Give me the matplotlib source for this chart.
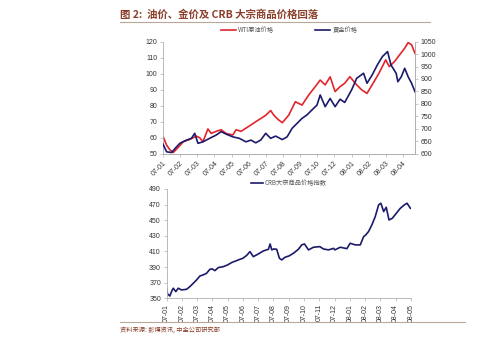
import matplotlib.pyplot as plt
from matplotlib.lines import Line2D

plt.rcParams['font.family'] = ['Liberation Sans', 'Noto Sans CJK SC', 'DejaVu Sans']

# --- oil & gold (top panel), x in label-step units ---
wti_x = [0.0, 0.21, 0.40, 0.60, 0.89, 1.18, 1.56, 1.95, 2.14, 2.33, 2.62, 2.81,
         3.10, 3.39, 3.68, 4.07, 4.26, 4.55, 4.84, 5.13, 5.41, 5.70, 5.99, 6.28,
         6.47, 6.76, 6.96, 7.34, 7.72, 8.11, 8.50, 8.88, 9.17, 9.46, 9.75, 10.04,
         10.33, 10.60, 10.90, 11.30, 11.60, 11.90, 12.20, 12.60, 12.99, 13.20,
         13.50, 13.80, 14.10, 14.30, 14.50, 14.70]
wti = [61.0, 55.4, 52.5, 50.8, 54.0, 57.5, 59.0, 61.0, 60.0, 57.5, 65.5, 62.7,
       64.0, 65.0, 62.7, 61.7, 65.0, 64.0, 66.0, 68.0, 70.0, 72.0, 74.0, 77.0,
       74.0, 71.0, 69.4, 74.2, 82.5, 80.4, 86.7, 91.9, 96.0, 93.0, 98.0, 88.8,
       91.9, 94.0, 98.1, 93.0, 89.8, 87.7, 93.0, 100.3, 108.6, 104.4,
       107.5, 111.7, 115.9, 119.4, 118.0, 112.7]

gold_x = [0.0, 0.21, 0.50, 0.70, 0.98, 1.37, 1.66, 1.85, 2.04, 2.33, 2.72, 3.10,
          3.39, 3.68, 4.07, 4.45, 4.84, 5.13, 5.41, 5.70, 5.99, 6.28, 6.57, 6.96,
          7.24, 7.53, 7.82, 8.11, 8.40, 8.69, 8.98, 9.17, 9.46, 9.75, 10.04, 10.33,
          10.60, 11.00, 11.30, 11.70, 11.90, 12.20, 12.50, 12.80, 13.10, 13.30,
          13.60, 13.70, 13.90, 14.10, 14.30, 14.50, 14.70]
gold = [639, 608, 605, 621, 642, 655, 662, 682, 642, 648, 662, 675,
        689, 679, 668, 662, 648, 655, 644, 655, 682, 662, 671, 657,
        668, 702, 722, 742, 756, 776, 795, 836, 789, 822, 789, 819,
        806, 856, 903, 923, 883, 916, 956, 990, 1010, 956,
        923, 889, 909, 943, 909, 883, 849]

top_labels = ['07-01', '07-02', '07-03', '07-04', '07-05', '07-06', '07-07', '07-08',
              '07-09', '07-10', '07-12', '08-01', '08-02', '08-03', '08-04']

# --- CRB index (bottom panel), x in months from Jan 2007 ---
crb_x = [0.0, 0.07, 0.22, 0.33, 0.44, 0.61, 0.77, 0.98, 1.31, 1.53, 1.75, 1.97,
         2.19, 2.40, 2.62, 2.84, 2.99, 3.17, 3.39, 3.72, 4.00, 4.26, 4.59, 4.81,
         5.00, 5.25, 5.46, 5.68, 6.01, 6.34, 6.67, 6.78, 6.89, 7.02, 7.21, 7.39,
         7.54, 7.76, 8.02, 8.31, 8.63, 8.85, 9.03, 9.29, 9.62, 10.03, 10.27, 10.60,
         10.93, 11.02, 11.37, 11.80, 12.02, 12.35, 12.68, 12.90, 13.03, 13.22,
         13.44, 13.66, 13.88, 14.03, 14.21, 14.38, 14.56, 14.78, 15.04, 15.30,
         15.56, 15.74, 15.96]
crb = [362, 355.7, 353, 358.7, 363, 358.7, 363, 360.8, 361.6, 365, 369.3, 373.6,
       378.7, 380, 382.1, 387.2, 387.7, 385.5, 389.4, 390.6, 392.8, 395.8, 398.3, 400,
       401.3, 405, 409.8, 403.4, 406.8, 410.7, 412.8, 419.6, 412, 413.2, 412.8, 401.3,
       399.2, 402.6, 404.3, 407.7, 412.8, 418.4, 419.6, 412, 415.4, 416.2, 413.2, 412,
       414, 412, 415.4, 413.6, 420.5, 418.4, 418.4, 429, 431, 435.4,
       444, 454.6, 469.5, 471.7, 461, 466.5, 450.3, 452.5, 458.9, 465.2,
       469.5, 471.7, 465.2]

bottom_labels = ['07-01', '07-02', '07-03', '07-04', '07-05', '07-06', '07-07', '07-08',
                 '07-09', '07-10', '07-11', '07-12', '08-01', '08-02', '08-03', '08-04',
                 '08-05']

RED = '#e3242b'
NAVY = '#1b1a6b'
BROWN = '#8a3f2a'
SPINE = '#b0b0b0'
CJK = ['Noto Sans CJK SC', 'DejaVu Sans']

fig = plt.figure(figsize=(5.0, 3.41), dpi=100)


def style(ax, right=False):
    ax.spines['top'].set_visible(False)
    ax.spines['right'].set_visible(right)
    for s in ['left', 'bottom', 'right']:
        ax.spines[s].set_color(SPINE)
        ax.spines[s].set_linewidth(0.6)
    ax.tick_params(labelsize=5, colors='#333333', length=2, width=0.5, pad=2)
    ax.tick_params(axis='both', color=SPINE)


# top panel
ax1 = fig.add_axes([0.326, 0.549, 0.504, 0.329])
ax1.plot(wti_x, wti, color=RED, lw=1.2)
ax1.set_xlim(0, 14.7)
ax1.set_ylim(50, 120)
ax1.set_yticks(range(50, 121, 10))
ax1.set_xticks(range(len(top_labels)))
ax1.set_xticklabels(top_labels, rotation=45, ha='right', rotation_mode='anchor')
style(ax1, right=True)

ax2 = ax1.twinx()
ax2.plot(gold_x, gold, color=NAVY, lw=1.2)
ax2.set_ylim(600, 1050)
ax2.set_yticks(range(600, 1051, 50))
style(ax2, right=True)
ax2.spines['left'].set_visible(False)

handles = [Line2D([], [], color=RED, lw=1.2), Line2D([], [], color=NAVY, lw=1.2)]
leg = ax1.legend(handles, ['WTI原油价格', '黄金价格'], loc='center',
                 bbox_to_anchor=(0.5, 1.105), ncol=2, frameon=False,
                 handlelength=2.4, columnspacing=6.5, handletextpad=0.4,
                 prop={'family': CJK, 'size': 4.5})
for t in leg.get_texts():
    t.set_color('#555555')

# bottom panel
ax3 = fig.add_axes([0.333, 0.125, 0.489, 0.321])
ax3.plot(crb_x, crb, color=NAVY, lw=1.2)
ax3.set_xlim(0, 16)
ax3.set_ylim(350, 490)
ax3.set_yticks(range(350, 491, 20))
ax3.set_xticks(range(len(bottom_labels)))
ax3.set_xticklabels(bottom_labels, rotation=90)
style(ax3)
leg3 = ax3.legend([Line2D([], [], color=NAVY, lw=1.2)], ['CRB大宗商品价格指数'],
                  loc='center', bbox_to_anchor=(0.5, 1.05), frameon=False,
                  handlelength=2.0, handletextpad=0.3,
                  prop={'family': CJK, 'size': 4.5})
for t in leg3.get_texts():
    t.set_color('#555555')

# title, rules and source note
fig.text(0.24, 0.958, '图 2:  油价、金价及 CRB 大宗商品价格回落', fontsize=7.5,
         fontweight='bold', color=BROWN, family=CJK, va='center')
fig.add_artist(Line2D([0.24, 0.86], [0.935, 0.935], color='#b8a89a', lw=0.8))
fig.add_artist(Line2D([0.24, 0.93], [0.056, 0.056], color='#b8a89a', lw=0.8))
fig.text(0.24, 0.033, '资料来源: 彭博资讯, 中金公司研究部', fontsize=4.5,
         color=BROWN, family=CJK, va='center')

fig.savefig('out.png', dpi=100)
